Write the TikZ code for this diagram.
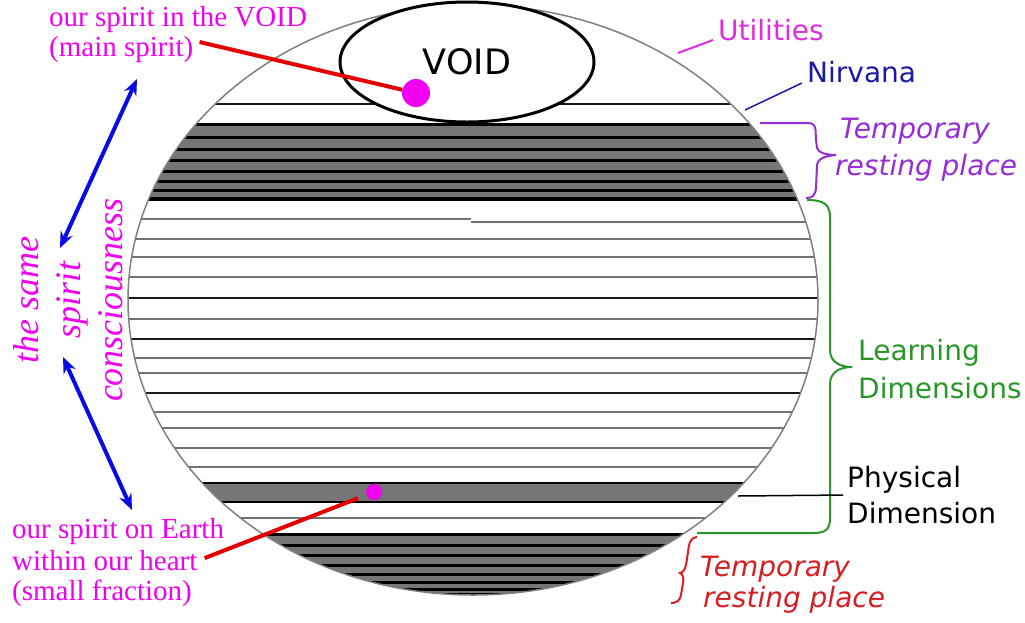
\documentclass[tikz,border=0pt]{standalone}
\usepackage{fontspec}
\setmainfont{Liberation Serif}
\newfontfamily\labelfont{DejaVu Sans}
\usetikzlibrary{arrows.meta,shapes.geometric}

\definecolor{spiritmag}{RGB}{240,0,240}
\definecolor{utilmag}{RGB}{225,45,225}
\definecolor{nirvblue}{RGB}{25,25,170}
\definecolor{restpurp}{RGB}{150,45,215}
\definecolor{learngreen}{RGB}{40,150,40}
\definecolor{restred}{RGB}{215,30,35}
\definecolor{arrowblue}{RGB}{10,10,230}
\definecolor{bandgray}{RGB}{118,118,118}

\begin{document}
\begin{tikzpicture}[x=1pt,y=-1pt,
	lefttxt/.style={anchor=base west,inner sep=0pt,text=spiritmag,font=\fontsize{29}{31}\selectfont},
	righttxt/.style={anchor=base west,inner sep=0pt,font=\labelfont\fontsize{28}{30}\selectfont},
	resttxt/.style={righttxt,font=\labelfont\itshape\fontsize{28}{30}\selectfont},
	glin/.style={draw=black!55,line width=2},
	dlin/.style={draw=black!90,line width=2.5},
	bandlin/.style={draw=black,line width=3},
	redlin/.style={draw=red!90!black,line width=4},
	bluearr/.style={draw=arrowblue,line width=4,{Stealth[length=16pt,width=13pt]}-{Stealth[length=16pt,width=13pt]}},
	spiritdot/.style={circle,fill=spiritmag,inner sep=0pt}]
	\fill [white] (0,0) rectangle (1025,622);
	\useasboundingbox (0,0) rectangle (1025,622);
	% dimensions inside the sphere
	\begin{scope}
		\clip (473,300) ellipse [x radius=345pt, y radius=295pt];
		\draw [dlin] (100,104) -- (850,104);
		\fill [bandgray] (100,123) rectangle (850,201);
		\foreach \y in {124.5,137,149,160,171,181,190}
			\draw [bandlin] (100,\y) -- (850,\y);
		\draw [bandlin,line width=4] (100,199) -- (850,199);
		\draw [glin] (100,219) -- (471,219);
		\draw [glin] (471,222) -- (850,222);
		\foreach \y in {239,257,277,319,358,373,412,428,448,467,518}
			\draw [glin] (100,\y) -- (850,\y);
		\foreach \y in {298,339,393}
			\draw [dlin] (100,\y) -- (850,\y);
		\filldraw [fill=bandgray,draw=black,line width=2] (100,483) rectangle (850,502);
		\fill [bandgray] (100,533) rectangle (850,600);
		\foreach \y in {534,545,555,565,574,582,589,594}
			\draw [bandlin] (100,\y) -- (850,\y);
	\end{scope}
	\draw [black!50,line width=1.5] (473,300) ellipse [x radius=345pt, y radius=295pt];
	\node [draw,ellipse,line width=3,fill=white,minimum width=254,minimum height=120,inner sep=0pt,font=\labelfont\fontsize{35}{35}\selectfont] (void) at (467,62) {VOID};
	\node [spiritdot,minimum size=28] (maindot) at (416,93) {};
	\node [spiritdot,minimum size=16] (earthdot) at (374,492) {};
	% left side
	\node [lefttxt] (voidl1) at (49,26) {our spirit in the VOID};
	\node [lefttxt] (voidl2) at (49,56) {(main spirit)};
	\node [lefttxt] (earthl1) at (12,538) {our spirit on Earth};
	\node [lefttxt] (earthl2) at (12,570) {within our heart};
	\node [lefttxt] (earthl3) at (12,600) {(small fraction)};
	\draw [redlin] ([xshift=6pt,yshift=7pt]voidl2.east) -- (maindot);
	\draw [redlin,shorten >=9pt] ([xshift=7pt,yshift=2pt]earthl2.east) -- (earthdot);
	\node [text=spiritmag,font=\itshape\fontsize{36}{42}\selectfont,align=center,rotate=90] (same) at (68,300) {the same\\spirit\\consciousness};
	\coordinate (up1) at (137,79);
	\coordinate (up2) at (60,248);
	\coordinate (lo1) at (63,357);
	\coordinate (lo2) at (132,510);
	\draw [bluearr] (up1) -- (up2);
	\draw [bluearr] (lo1) -- (lo2);
	% right side
	\node [righttxt,text=utilmag] (util) at (718,40) {Utilities};
	\coordinate (utilend) at (678,53);
	\draw [utilmag,line width=2] (utilend) -- ([xshift=-5pt]util.base west);
	\node [righttxt,text=nirvblue] (nirv) at (807,82) {Nirvana};
	\coordinate (nirvend) at (745,110);
	\draw [nirvblue,line width=1.5] (nirvend) -- ([xshift=-5pt,yshift=-1pt]nirv.base west);
	\node [resttxt,text=restpurp] (restup1) at (840,138) {Temporary};
	\node [resttxt,text=restpurp] (restup2) at (835,175) {resting place};
	\draw [restpurp,line width=2] (760,123) -- (808,123) .. controls (818,123) and (815,133) .. (816,140) -- (817,148) .. controls (818,153) and (828,155) .. (836,155) .. controls (826,156) and (818,158) .. (817,165) -- (816,188) .. controls (815,196) and (812,198) .. (806,198);
	\node [righttxt,text=learngreen] (learn1) at (858,360) {Learning};
	\node [righttxt,text=learngreen] (learn2) at (858,398) {Dimensions};
	\draw [learngreen,line width=2] (807,200) .. controls (825,200) and (830,205) .. (830,218) -- (830,350) .. controls (830,362) and (840,367) .. (852,367) .. controls (840,367) and (830,372) .. (830,384) -- (830,518) .. controls (830,530) and (825,533) .. (813,533) -- (697,533);
	\node [righttxt] (phys1) at (847,487) {Physical};
	\node [righttxt] (phys2) at (847,523) {Dimension};
	\coordinate (physend) at (738,496);
	\draw [black,line width=1.5] (physend) -- ([xshift=-4pt,yshift=-2pt]phys1.south west);
	\node [resttxt,text=restred] (restlo1) at (700,576) {Temporary};
	\node [resttxt,text=restred] (restlo2) at (703,607) {resting place};
	\draw [restred,line width=2] (697,537) .. controls (689,538) and (689,545) .. (688,552) -- (686,565) .. controls (685,570) and (682,573) .. (680,573) .. controls (683,574) and (684,578) .. (683,583) -- (681,595) .. controls (680,601) and (676,603) .. (671,603);
\end{tikzpicture}
\end{document}
